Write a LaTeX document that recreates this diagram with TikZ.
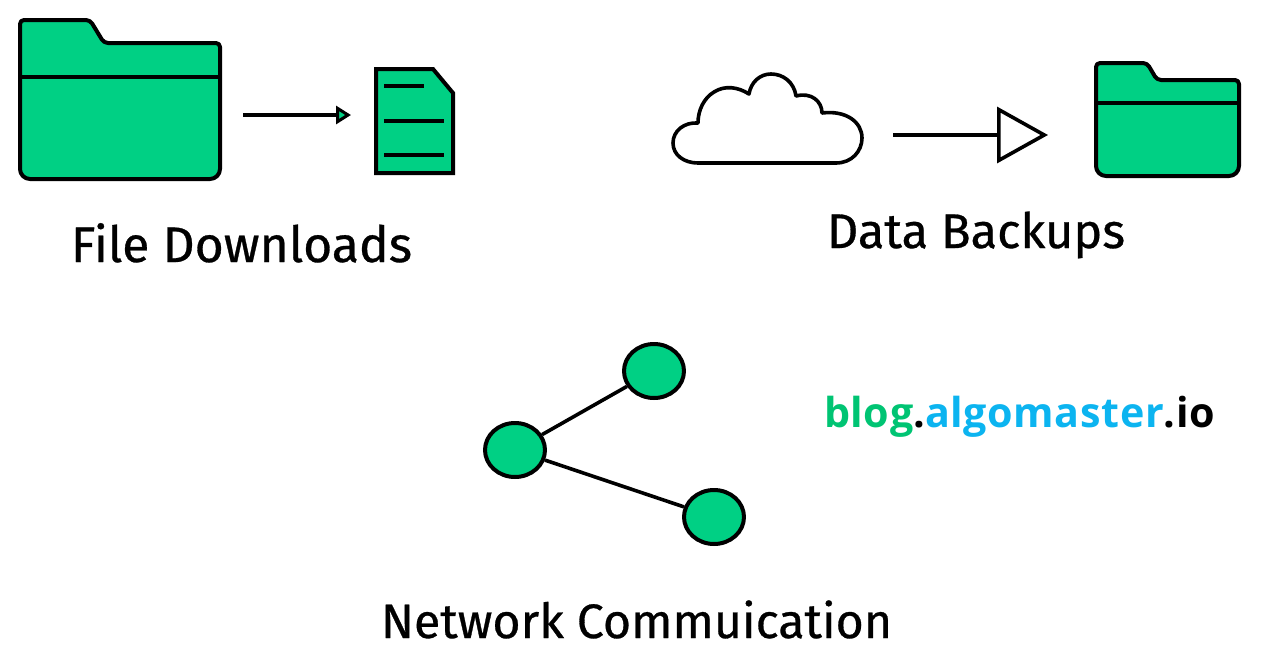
\documentclass[tikz,border=0pt]{standalone}
\usepackage{fontspec}
\setmainfont{Fira Sans}[FakeBold=0.6]
\newfontfamily\logofont{Open Sans}[Scale=1,LetterSpace=1.5]
\usetikzlibrary{arrows.meta,shapes.geometric}
\definecolor{gr}{HTML}{00D084}
\definecolor{logogreen}{HTML}{00C473}
\definecolor{logoblue}{HTML}{0CB4F0}
\tikzset{
  ink/.style={line width=4pt,draw=black,line join=round},
  icon/.style={ink,fill=gr},
  blob/.style={ellipse,ink,fill=gr,minimum width=60pt,minimum height=54pt,inner sep=0pt},
  wire/.style={line width=3.6pt,draw=black},
  label/.style={anchor=base west,inner sep=0pt,outer sep=0pt},
}
\newcommand{\fitlabel}[2]{\resizebox{#1pt}{!}{#2}}
\begin{document}
\begin{tikzpicture}[x=1pt,y=-1pt]
\useasboundingbox (0,0) rectangle (1262,670);
% first folder
\draw[icon,rounded corners=10pt] (120,179) -- (20,179) -- (20,100) [rounded corners=4pt] -- (20,20) -- (90,20) -- (104,43) -- (220,43) -- (220,100) [rounded corners=10pt] -- (220,179) -- cycle;
\draw[icon,fill=none] (20,77) -- (220,77);
% document
\draw[icon,line join=miter] (376,173) -- (376,69) -- (433,69) -- (453,93) -- (453,173) -- cycle;
\draw[ink] (384,86) -- (424,86);
\draw[ink] (384,121) -- (444,121);
\draw[ink] (384,155) -- (444,155);
% first arrow
\coordinate (a1) at (243,115);
\coordinate (a2) at (351,115);
\draw[wire,-{Triangle[length=15pt,width=18pt,fill=gr,line width=3pt]}] (a1) -- (a2);
% cloud
\draw[ink,line width=3.6pt,fill=white]
  (698,163) -- (836,163)
  .. controls (852,163) and (862,151) .. (862,138)
  .. controls (862,122) and (846,110) .. (822,113)
  .. controls (822,101) and (811,92) .. (796,96)
  .. controls (794,82) and (783,74) .. (771,74)
  .. controls (760,74) and (751,82) .. (749,94)
  .. controls (738,87) and (725,85) .. (714,92)
  .. controls (704,98) and (698,110) .. (698,123)
  .. controls (684,122) and (673,131) .. (673,143)
  .. controls (673,155) and (684,163) .. (698,163) -- cycle;
% second arrow
\coordinate (b1) at (893,135);
\coordinate (b2) at (1048,135);
\draw[wire,-{Triangle[length=51pt,width=56pt,fill=white,line width=3.6pt]}] (b1) -- (b2);
% second folder
\draw[icon,rounded corners=10pt] (1170,176) -- (1096,176) -- (1096,120) [rounded corners=4pt] -- (1096,63) -- (1147,63) -- (1157,80) -- (1239,80) -- (1239,120) [rounded corners=10pt] -- (1239,176) -- cycle;
\draw[icon,fill=none] (1096,103) -- (1239,103);
% network
\node[blob] (hub) at (515,450) {};
\node[blob] (top) at (654,371) {};
\node[blob] (low) at (714,517) {};
\draw[wire] (hub) -- (top);
\draw[wire] (hub) -- (low);
% labels
\node[label] (l1) at (71,262) {\fitlabel{341}{File Downloads}};
\node[label] (l2) at (827,248) {\fitlabel{298}{Data Backups}};
\node[label] (l3) at (381,638) {\fitlabel{511}{Network Commuication}};
\node[label] (logo) at (824,427) {\fitlabel{391}{\logofont\bfseries\textcolor{logogreen}{blog}\textcolor{black}{.}\textcolor{logoblue}{algomaster}\textcolor{black}{.io}}};
\end{tikzpicture}
\end{document}
